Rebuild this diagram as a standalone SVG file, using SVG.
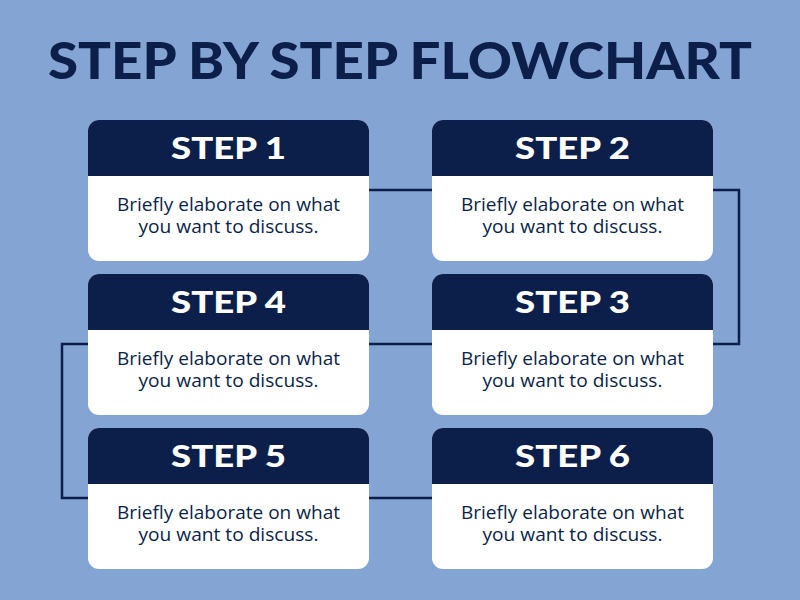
<svg xmlns="http://www.w3.org/2000/svg" width="800" height="600" viewBox="0 0 800 600">
<style>
.card{fill:#ffffff}
.head{fill:#0b1f4a}
.ht{font-family:"Lato","Inter","Liberation Sans",sans-serif;font-weight:900;font-size:31px;fill:#ffffff;text-anchor:middle}
.bt{font-family:"Open Sans","Noto Sans","Liberation Sans",sans-serif;font-weight:500;font-size:17.5px;fill:#0b1f4a;text-anchor:middle}
.title{font-family:"Lato","Inter","Liberation Sans",sans-serif;font-weight:900;font-size:52px;fill:#0b1f4a;text-anchor:middle}
.conn{fill:none;stroke:#0b1f4a;stroke-width:2.5}
</style>
<defs>
<g id="box">
<rect class="card" x="0" y="0" width="281" height="141" rx="11"/>
<path class="head" d="M0 11 A11 11 0 0 1 11 0 H270 A11 11 0 0 1 281 11 V56 H0 Z"/>
</g>
<g id="body">
<text class="bt" x="140.5" y="91" textLength="223" lengthAdjust="spacingAndGlyphs">Briefly elaborate on what</text>
<text class="bt" x="140.5" y="113" textLength="180" lengthAdjust="spacingAndGlyphs">you want to discuss.</text>
</g>
</defs>
<rect x="0" y="0" width="800" height="600" fill="#84a4d4"/>
<text class="title" x="400" y="79" textLength="704" lengthAdjust="spacingAndGlyphs">STEP BY STEP FLOWCHART</text>
<g id="connectors">
<path class="conn" d="M368 190 H739 V344 H62 V498 H432"/>
</g>
<g id="step1" transform="translate(88,120)">
<use href="#box"/>
<text class="ht" x="140.5" y="39" textLength="115" lengthAdjust="spacingAndGlyphs">STEP 1</text>
<use href="#body"/>
</g>
<g id="step2" transform="translate(432,120)">
<use href="#box"/>
<text class="ht" x="140.5" y="39" textLength="115" lengthAdjust="spacingAndGlyphs">STEP 2</text>
<use href="#body"/>
</g>
<g id="step4" transform="translate(88,274)">
<use href="#box"/>
<text class="ht" x="140.5" y="39" textLength="115" lengthAdjust="spacingAndGlyphs">STEP 4</text>
<use href="#body"/>
</g>
<g id="step3" transform="translate(432,274)">
<use href="#box"/>
<text class="ht" x="140.5" y="39" textLength="115" lengthAdjust="spacingAndGlyphs">STEP 3</text>
<use href="#body"/>
</g>
<g id="step5" transform="translate(88,428)">
<use href="#box"/>
<text class="ht" x="140.5" y="39" textLength="115" lengthAdjust="spacingAndGlyphs">STEP 5</text>
<use href="#body"/>
</g>
<g id="step6" transform="translate(432,428)">
<use href="#box"/>
<text class="ht" x="140.5" y="39" textLength="115" lengthAdjust="spacingAndGlyphs">STEP 6</text>
<use href="#body"/>
</g>
</svg>
